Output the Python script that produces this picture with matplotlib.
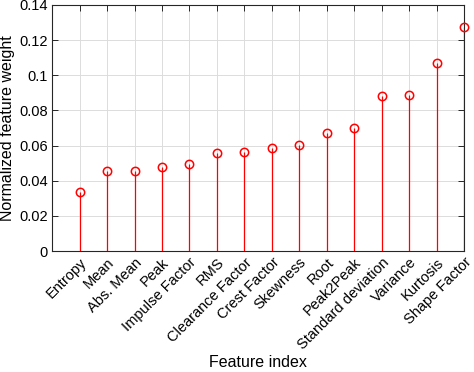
import matplotlib
matplotlib.use("Agg")
import matplotlib.pyplot as plt
import numpy as np

features = ["Entropy", "Mean", "Abs. Mean", "Peak", "Impulse Factor", "RMS",
            "Clearance Factor", "Crest Factor", "Skewness", "Root", "Peak2Peak",
            "Standard deviation", "Variance", "Kurtosis", "Shape Factor"]
weights = [0.0335, 0.0455, 0.0455, 0.0476, 0.0494, 0.0558, 0.0564, 0.0588,
           0.0604, 0.0673, 0.0700, 0.0884, 0.0887, 0.1070, 0.1272]
yticks = [0, 0.02, 0.04, 0.06, 0.08, 0.1, 0.12, 0.14]
ytick_labels = ["0", "0.02", "0.04", "0.06", "0.08", "0.1", "0.12", "0.14"]

plt.rcParams['font.family'] = ['Liberation Sans', 'DejaVu Sans']

fig = plt.figure(figsize=(4.74, 3.72), dpi=100)
ax = fig.add_axes([0.110, 0.325, 0.869, 0.662])

x = np.arange(1, len(features) + 1)
ax.vlines(x, 0, weights, color='#ff0000', linewidth=0.9, zorder=3)
ax.plot(x, weights, linestyle='none', marker='o', markersize=6.0,
        markerfacecolor='none', markeredgecolor='#ff0000', markeredgewidth=1.1,
        zorder=4, clip_on=False)

ax.set_xlim(0, 15)
ax.set_ylim(0, 0.14)
ax.set_xticks(x)
ax.set_xticklabels(features, rotation=45, ha='right', rotation_mode='anchor',
                   fontsize=10.5)
ax.set_yticks(yticks)
ax.set_yticklabels(ytick_labels, fontsize=10.5)
ax.tick_params(direction='in', length=4, width=0.7, top=True, right=True,
               colors='#262626', labelcolor='#000000', pad=3)
ax.tick_params(axis='x', pad=3)
ax.grid(True, color='#dcdcdc', linewidth=0.7, zorder=0)
ax.set_axisbelow(True)
for s in ax.spines.values():
    s.set_color('#262626')
    s.set_linewidth(0.8)

ax.set_ylabel("Normalized feature weight", fontsize=11.5, labelpad=3)
ax.set_xlabel("Feature index", fontsize=11.5, labelpad=2)

fig.savefig("out.png", dpi=100)
